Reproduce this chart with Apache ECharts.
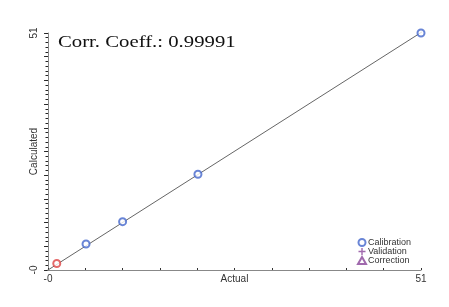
<!DOCTYPE html>
<html>
<head>
<meta charset="utf-8">
<script src="https://cdn.jsdelivr.net/npm/echarts@6/dist/echarts.min.js"></script>
<style>html,body{margin:0;padding:0;background:#fff}#c{width:449px;height:307px}</style>
</head>
<body>
<div id="c"></div>
<script>
// Data
const calibrationActual = [5.2, 10.2, 20.5, 51];
const calibrationCalc   = [5.6, 10.4, 20.6, 51];
const excludedActual = [1.2];
const excludedCalc   = [1.4];
const fitLineX = [-0.3, 52.2];
const fitLineY = [-0.3, 52.3];
const axisMin = 0, axisMax = 51, axisStep = 5.1, minorStep = 1.02;
const minLabel = '-0', maxLabel = '51';
const annotation = 'Corr. Coeff.: 0.99991';

const chart = echarts.init(document.getElementById('c'), null, {renderer: 'canvas'});
const zip = (a, b) => a.map((v, i) => [v, b[i]]);
const labelFmt = v => (v < axisStep / 2 ? minLabel : (v > axisMax - axisStep / 2 ? maxLabel : ''));
const plusPath = 'path://M4,0L6,0L6,4L10,4L10,6L6,6L6,10L4,10L4,6L0,6L0,4L4,4Z';

chart.setOption({
  animation: false,
  backgroundColor: '#fff',
  textStyle: {fontFamily: 'Liberation Sans'},
  grid: {left: 48, top: 33, width: 373, height: 237},
  xAxis: {
    type: 'value', min: axisMin, max: axisMax, interval: axisStep,
    name: 'Actual', nameLocation: 'middle', nameGap: 4, nameMoveOverlap: false,
    nameTextStyle: {color: '#333', fontSize: 10, verticalAlign: 'top'},
    axisLine: {lineStyle: {color: '#888'}},
    axisTick: {show: true, inside: true, length: 2, lineStyle: {color: '#333'}},
    axisLabel: {formatter: labelFmt, color: '#333', fontSize: 10, margin: 4, showMinLabel: true, showMaxLabel: true},
    splitLine: {show: false}
  },
  yAxis: [{
    type: 'value', min: axisMin, max: axisMax, interval: axisStep,
    name: 'Calculated', nameLocation: 'middle', nameGap: 9, nameRotate: 90, nameMoveOverlap: false,
    nameTextStyle: {color: '#333', fontSize: 10},
    axisLine: {lineStyle: {color: '#888'}},
    axisTick: {show: true, length: 4, lineStyle: {color: '#333'}},
    axisLabel: {formatter: labelFmt, color: '#333', fontSize: 10, margin: 9, rotate: 90, showMinLabel: true, showMaxLabel: true},
    splitLine: {show: false}
  }, {
    type: 'value', min: axisMin, max: axisMax, interval: minorStep, position: 'left', offset: 0,
    axisLine: {show: false},
    axisTick: {show: true, length: 2.5, lineStyle: {color: '#222', width: 1}},
    axisLabel: {show: false},
    splitLine: {show: false}
  }],
  legend: {
    orient: 'vertical', left: 352, top: 233, itemGap: 0,
    itemWidth: 8, itemHeight: 7,
    textStyle: {fontSize: 9, color: '#333', padding: [0, 0, 0, -3]},
    data: ['Calibration', 'Validation', 'Correction']
  },
  graphic: [{
    type: 'text', left: 58, top: 34, scaleX: 1.22,
    style: {text: annotation, font: '17px "Liberation Serif"', fill: '#111'}
  }],
  series: [
    {
      name: 'Fit', type: 'line', data: zip(fitLineX, fitLineY), clip: false,
      showSymbol: false, symbol: 'none', lineStyle: {color: '#666', width: 1}, z: 1, silent: true
    },
    {
      name: 'Calibration', type: 'scatter', data: zip(calibrationActual, calibrationCalc),
      symbol: 'emptyCircle', symbolSize: 7, itemStyle: {color: '#4466cc', borderWidth: 1.2}, z: 3
    },
    {
      name: 'Excluded', type: 'scatter', data: zip(excludedActual, excludedCalc),
      symbol: 'emptyCircle', symbolSize: 7, itemStyle: {color: '#dd4444', borderWidth: 1.2}, z: 3
    },
    {
      name: 'Validation', type: 'scatter', data: [],
      symbol: plusPath, symbolSize: 7, itemStyle: {color: '#884499'}
    },
    {
      name: 'Correction', type: 'scatter', data: [],
      symbol: 'emptyTriangle', symbolSize: 7, itemStyle: {color: '#884499', borderWidth: 1.2}
    }
  ]
});
</script>
</body>
</html>
